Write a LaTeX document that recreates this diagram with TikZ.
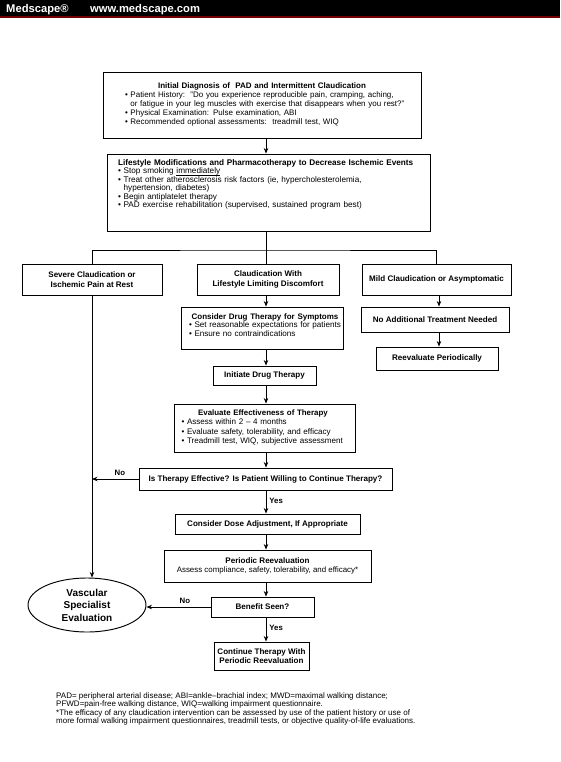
\documentclass[tikz,border=0pt]{standalone}
\usepackage{fontspec}
\setmainfont{Liberation Sans}
\usetikzlibrary{shapes.geometric,arrows.meta}
\newcommand{\mybul}{\textbullet\ }
\newcommand{\myind}{\phantom{\textbullet\ }}
\newcommand{\myul}[1]{\setbox0\hbox{#1}\rlap{\rule[-1.9pt]{\wd0}{0.4pt}}#1}
\begin{document}
\begin{tikzpicture}[x=1pt,y=-1pt,
  box/.style={draw, line width=0.95pt, inner sep=1pt, align=center,
    font=\bfseries\fontsize{8.05}{9.6}\selectfont},
  frame/.style={draw, line width=0.95pt, inner sep=0pt},
  txt/.style={inner sep=0pt, align=left},
  conn/.style={line width=0.8pt},
  arr/.style={conn, -{Stealth[length=5.5pt,width=4.5pt]}},
  lab/.style={font=\bfseries\fontsize{7.8}{9}\selectfont, inner sep=0pt},
  hdr/.style={anchor=base west, text=white, inner sep=0pt,
    font=\bfseries\fontsize{11.2}{13}\selectfont}
]
\useasboundingbox (0,0) rectangle (560,762);
\fill[white] (0,0) rectangle (560,762);
\fill[black] (0,0) rectangle (560,16);
\fill[red!45!black] (0,16) rectangle (560,18);
\node[hdr] (hd1) at (6,12.5) {Medscape®};
\node[hdr] (hd2) at (90,12.5) {www.medscape.com};

% spine coordinates
\coordinate (sp) at (266,0);
\coordinate (mp) at (439,0);

% box 1
\node[frame, minimum width=318pt, minimum height=66pt] (b1) at (262,105) {};
\node[txt, text width=288pt, font=\fontsize{8}{9}\selectfont] (b1t) at (269,104.5) {%
\makebox[\linewidth]{\bfseries Initial Diagnosis of\ \ PAD and Intermittent Claudication\hspace*{14pt}}\\
\mybul Patient History:\ \ "Do you experience reproducible pain, cramping, aching,\\
\myind or fatigue in your leg muscles with exercise that disappears when you rest?"\\
\mybul Physical Examination: Pulse examination, ABI\\
\mybul Recommended optional assessments:\ \ treadmill test, WIQ};

% box 2
\node[frame, minimum width=323pt, minimum height=77pt] (b2) at (268.5,192.5) {};
\node[txt, text width=298pt, font=\fontsize{8.2}{8.45}\selectfont] (b2t) at (267,184.5) {%
{\bfseries Lifestyle Modifications and Pharmacotherapy to Decrease Ischemic Events}\\
\mybul Stop smoking \myul{immediately}\\
\mybul Treat other atherosclerosis risk factors (ie, hypercholesterolemia,\\
\myind hypertension, diabetes)\\
\mybul Begin antiplatelet therapy\\
\mybul PAD exercise rehabilitation (supervised, sustained program best)};

% three branches
\node[box, minimum width=140pt, minimum height=31pt] (sev) at (92,279.5) {Severe Claudication or\\Ischemic Pain at Rest};
\node[box, minimum width=142pt, minimum height=31pt] (cla) at (268,279.5) {Claudication With\\Lifestyle Limiting Discomfort};
\node[box, minimum width=149pt, minimum height=31pt] (mild) at (436.5,279.5) {Mild Claudication or Asymptomatic};

\node[box, minimum width=148pt, minimum height=25pt] (noadd) at (435,319.5) {No Additional Treatment Needed};
\node[box, minimum width=122pt, minimum height=23pt] (reev) at (437,358.5) {Reevaluate Periodically};

% consider drug therapy
\node[frame, minimum width=162pt, minimum height=42pt] (cdt) at (262,328) {};
\node[txt, text width=152pt, font=\fontsize{8.1}{8.6}\selectfont] (cdtt) at (265,325) {%
\makebox[\linewidth]{\bfseries\fontsize{8}{8.6}\selectfont Consider Drug Therapy for Symptoms}\\
\mybul Set reasonable expectations for patients\\
\mybul Ensure no contraindications};

\node[box, minimum width=103pt, minimum height=19pt] (init) at (264.5,375.5) {Initiate Drug Therapy};

% evaluate
\node[frame, minimum width=181pt, minimum height=48pt] (eva) at (264.5,428) {};
\node[txt, text width=163pt, font=\fontsize{8.05}{9.2}\selectfont] (evat) at (263,427.5) {%
\makebox[\linewidth]{\bfseries\fontsize{7.9}{9.2}\selectfont Evaluate Effectiveness of Therapy}\\
\mybul Assess within 2 – 4 months\\
\mybul Evaluate safety, tolerability, and efficacy\\
\mybul Treadmill test, WIQ, subjective assessment};

\node[box, minimum width=253pt, minimum height=22pt] (eff) at (265.5,479) {Is Therapy Effective? Is Patient Willing to Continue Therapy?};
\node[box, minimum width=185pt, minimum height=20pt] (dose) at (267.5,524) {Consider Dose Adjustment, If Appropriate};
\node[box, minimum width=207pt, minimum height=32pt] (per) at (267.5,566) {Periodic Reevaluation\\{\mdseries\fontsize{7.9}{9.6}\selectfont Assess compliance, safety, tolerability, and efficacy*}};
\node[box, minimum width=103pt, minimum height=20pt] (ben) at (262.5,607) {Benefit Seen?};
\node[box, minimum width=95pt, minimum height=28pt] (cont) at (261.5,656) {Continue Therapy With\\Periodic Reevaluation};

\node[ellipse, draw, line width=0.95pt, minimum width=118pt, minimum height=54pt, inner sep=0pt, align=center,
  font=\bfseries\fontsize{10}{12.5}\selectfont] (vse) at (87,605) {Vascular\\Specialist\\Evaluation};

% connectors
\draw[arr] (b1.south -| sp) -- (b2.north -| sp);
\coordinate (br) at (266,250);
\draw[conn] (b2.south -| sp) -- (cla.north -| sp);
\draw[conn] (sev.north) -- (sev.north |- br) -- (br) -- (mild.north |- br) -- (mild.north);
\draw[arr] (cla.south -| sp) -- (cdt.north -| sp);
\draw[arr] (cdt.south -| sp) -- (init.north -| sp);
\draw[arr] (init.south -| sp) -- (eva.north -| sp);
\draw[arr] (eva.south -| sp) -- (eff.north -| sp);
\draw[arr] (eff.south -| sp) -- node[lab, anchor=west, xshift=3pt, pos=0.45] (y1) {Yes} (dose.north -| sp);
\draw[arr] (dose.south -| sp) -- (per.north -| sp);
\draw[arr] (per.south -| sp) -- (ben.north -| sp);
\draw[arr] (ben.south -| sp) -- node[lab, anchor=west, xshift=3pt, pos=0.45] (y2) {Yes} (cont.north -| sp);
\draw[arr] (mild.south -| mp) -- (noadd.north -| mp);
\draw[arr] (noadd.south -| mp) -- (reev.north -| mp);
\draw[arr] (sev.south) -- (sev.south |- vse.north);
\draw[arr] (eff.west) -- node[lab, above=3pt, pos=0.4] (n1) {No} (eff.west -| sev.south);
\draw[arr] (ben.west) -- node[lab, above=3pt, pos=0.4] (n2) {No} (ben.west -| vse.east);

% footer
\node[anchor=north west, inner sep=0pt, align=left, font=\fontsize{8}{8.5}\selectfont] (foot) at (56,692) {%
PAD= peripheral arterial disease; ABI=ankle–brachial index; MWD=maximal walking distance;\\
PFWD=pain-free walking distance, WIQ=walking impairment questionnaire.\\
*The efficacy of any claudication intervention can be assessed by use of the patient history or use of\\
more formal walking impairment questionnaires, treadmill tests, or objective quality-of-life evaluations.};
\end{tikzpicture}
\end{document}
